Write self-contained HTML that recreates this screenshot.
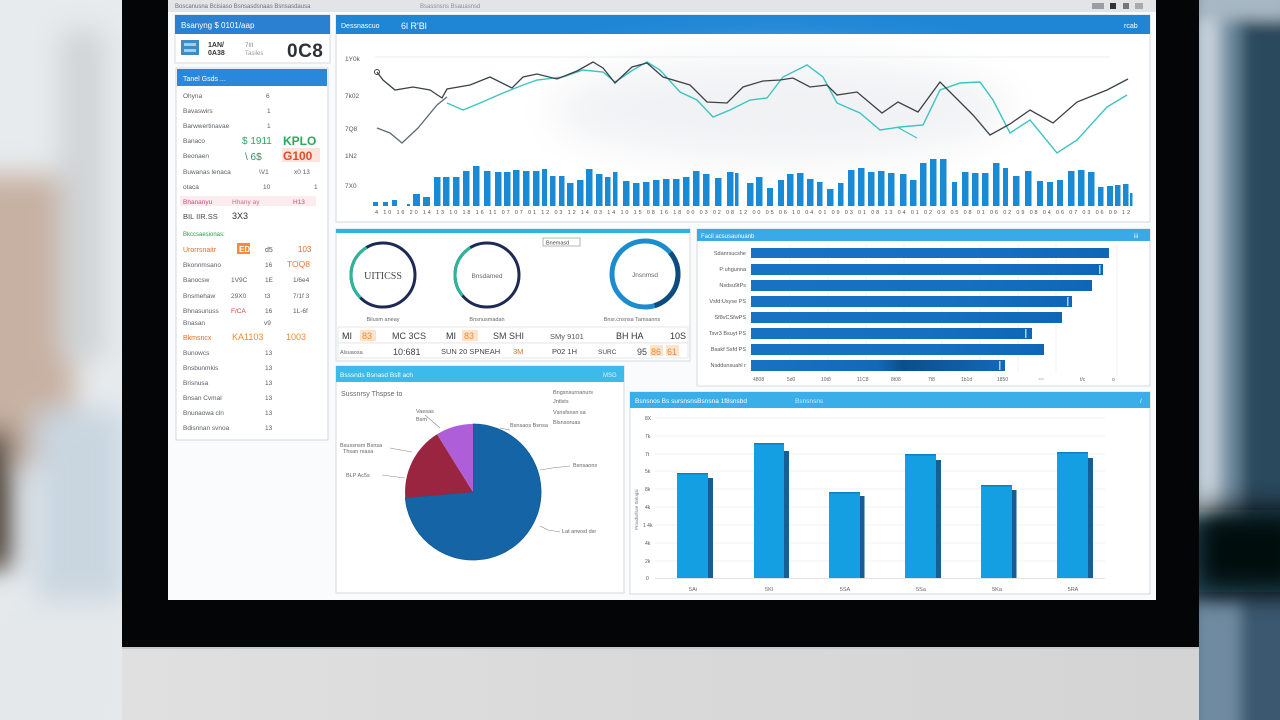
<!DOCTYPE html>
<html><head><meta charset="utf-8">
<style>
html,body{margin:0;padding:0;width:1280px;height:720px;overflow:hidden;background:#e6eaed;}
svg{display:block;font-family:"Liberation Sans",sans-serif;}
</style></head><body>
<svg width="1280" height="720" viewBox="0 0 1280 720" xmlns="http://www.w3.org/2000/svg">
<defs>
<filter id="b1" x="-80%" y="-80%" width="260%" height="260%"><feGaussianBlur stdDeviation="14"/></filter>
<filter id="b2" x="-80%" y="-80%" width="260%" height="260%"><feGaussianBlur stdDeviation="7"/></filter>
<filter id="b3" x="-50%" y="-50%" width="200%" height="200%"><feGaussianBlur stdDeviation="20"/></filter>
<linearGradient id="chin" x1="0" x2="1" y1="0" y2="0"><stop offset="0" stop-color="#e0e0e0"/><stop offset="0.5" stop-color="#d9d9d9"/><stop offset="1" stop-color="#d4d4d4"/></linearGradient>
<linearGradient id="hb" x1="0" x2="1"><stop offset="0" stop-color="#1872c4"/><stop offset="0.6" stop-color="#1670c2"/><stop offset="1" stop-color="#1066b6"/></linearGradient>
<linearGradient id="hb8" x1="0" x2="1"><stop offset="0" stop-color="#1872c4"/><stop offset="0.5" stop-color="#1468b8"/><stop offset="0.6" stop-color="#0c4e8c"/><stop offset="1" stop-color="#1468b8"/></linearGradient>
</defs>

<!-- LEFT BACKGROUND -->
<rect x="0" y="0" width="130" height="720" fill="#e7ebee"/>
<g filter="url(#b1)">
 <rect x="-30" y="175" width="105" height="290" fill="#c7b1a2"/>
 <rect x="-30" y="430" width="42" height="140" fill="#4a3c33"/>
 <rect x="35" y="410" width="90" height="220" fill="#c9d6e0"/>
 <rect x="60" y="30" width="45" height="330" fill="#d0d4d7"/>
 <rect x="-20" y="600" width="150" height="140" fill="#e4e8eb"/>
</g>

<!-- RIGHT BACKGROUND -->
<rect x="1190" y="0" width="90" height="720" fill="#2e4d63"/>
<g filter="url(#b2)">
 <rect x="1192" y="-20" width="28" height="540" fill="#c2cfd8"/>
 <rect x="1220" y="-20" width="20" height="540" fill="#6f8b9f"/>
 <rect x="1244" y="-20" width="60" height="760" fill="#2a485d"/>
 <rect x="1192" y="-30" width="100" height="50" fill="#a7b7c3"/>
 <rect x="1192" y="600" width="50" height="140" fill="#6f8ba1"/>
 <rect x="1240" y="600" width="60" height="140" fill="#3a5870"/>
</g>
<g filter="url(#b1)">
 <rect x="1195" y="510" width="110" height="82" fill="#05080b"/>
</g>

<!-- MONITOR -->
<rect x="122" y="0" width="1077" height="648" fill="#040506"/>
<rect x="122" y="647" width="1077" height="73" fill="url(#chin)"/>
<rect x="122" y="647" width="1077" height="2" fill="#c9c9c9"/>

<!-- SCREEN -->
<rect x="168" y="0" width="988" height="600" fill="#fafbfc"/>
<rect x="168" y="0" width="988" height="12" fill="#e2e4e6"/>
<g fill="#6a6e74" font-size="6">
 <text x="175" y="8">Boscanusna Bcisiaso Bsnsasdsnaas Bsnsasdausa</text>
 <text x="420" y="8" fill="#8a8e94">Bsassnsns Bsauasnsd</text>
</g>
<g fill="#555">
 <rect x="1092" y="3" width="12" height="6" fill="#9a9ea4"/>
 <rect x="1110" y="3" width="6" height="6" fill="#333"/>
 <rect x="1123" y="3" width="6" height="6" fill="#777"/>
 <rect x="1135" y="3" width="8" height="6" fill="#aaa"/>
</g>

<!-- LEFT PANEL 1 -->
<rect x="175" y="15" width="155" height="48" fill="#fff" stroke="#d6dadd"/>
<rect x="175" y="15" width="155" height="19" fill="#2b80d2"/>
<text x="181" y="28" font-size="8" fill="#fff">Bsanyng $ 0101/aap</text>
<rect x="181" y="40" width="18" height="15" fill="#3d8cc6"/>
<rect x="184" y="43" width="12" height="3" fill="#9fd0e8"/>
<rect x="184" y="49" width="12" height="3" fill="#9fd0e8"/>
<text x="208" y="47" font-size="7" fill="#333" font-weight="bold">1AN/</text>
<text x="208" y="55" font-size="7" fill="#333" font-weight="bold">0A38</text>
<text x="245" y="47" font-size="6" fill="#888">7III</text>
<text x="245" y="55" font-size="6" fill="#999">Tasiles</text>
<text x="287" y="57" font-size="19" fill="#2e3134" font-weight="bold" letter-spacing="0.5">0C8</text>

<!-- LEFT PANEL 2 -->
<rect x="176" y="68" width="152" height="372" fill="#fff" stroke="#d3d7da"/>
<rect x="177" y="69" width="150" height="17" fill="#2a88dc"/>
<text x="183" y="81" font-size="7" fill="#fff">Tanel Gsds  ...</text>
<g font-size="6.5" fill="#5a5e64">
 <text x="183" y="98">Ohyna</text><text x="266" y="98">6</text>
 <text x="183" y="113">Bavaswirs</text><text x="267" y="113">1</text>
 <text x="183" y="128">Barwwertinavae</text><text x="267" y="128">1</text>
 <text x="183" y="143">Banaco</text>
 <text x="183" y="158">Beonaen</text>
 <text x="183" y="174">Buwanas lenaca</text><text x="259" y="174">\V1</text><text x="294" y="174">x0 13</text>
 <text x="183" y="189">otaca</text><text x="263" y="189">10</text><text x="314" y="189">1</text>
 <text x="183" y="219" font-size="7.5" fill="#444">BIL IIR.SS</text>
 <text x="183" y="267">Bkonnmsano</text><text x="265" y="267">16</text>
 <text x="183" y="282">Banocsw</text><text x="231" y="282">1V9C</text><text x="265" y="282">1E</text><text x="293" y="282">1/6e4</text>
 <text x="183" y="298">Bnsmehaw</text><text x="231" y="298">29X0</text><text x="265" y="298">t3</text><text x="293" y="298">7/1f 3</text>
 <text x="183" y="313">Bhnasunuss</text><text x="265" y="313">16</text><text x="293" y="313">1L-6f</text>
 <text x="183" y="325">Bnasan</text><text x="264" y="325">v9</text>
 <text x="183" y="355">Bunowcs</text><text x="265" y="355">13</text>
 <text x="183" y="370">Bnsbunmkis</text><text x="265" y="370">13</text>
 <text x="183" y="385">Brisnusa</text><text x="265" y="385">13</text>
 <text x="183" y="400">Bnsan Cvmal</text><text x="265" y="400">13</text>
 <text x="183" y="415">Bnunaowa cln</text><text x="265" y="415">13</text>
 <text x="183" y="430">Bdisnnan svnoa</text><text x="265" y="430">13</text>
</g>
<text x="242" y="144" font-size="10" fill="#2aa860">$ 1911</text>
<text x="283" y="145" font-size="12" fill="#2aa860" font-weight="bold">KPLO</text>
<text x="245" y="160" font-size="10" fill="#3a8a60">\ 6$</text>
<rect x="282" y="148" width="38" height="14" fill="#fde4dc"/>
<text x="283" y="160" font-size="12" fill="#e04a2a" font-weight="bold">G100</text>
<rect x="180" y="196" width="136" height="10" fill="#fcebef"/>
<text x="183" y="204" font-size="6.5" fill="#c0507a">Bhananyu</text>
<text x="232" y="204" font-size="6.5" fill="#d07090">Hhany ay</text>
<text x="293" y="204" font-size="6.5" fill="#c0507a">H13</text>
<text x="232" y="219" font-size="9" fill="#333">3X3</text>
<text x="183" y="236" font-size="6" fill="#2a9a50">Bkccsaesionas:</text>
<text x="183" y="252" font-size="7" fill="#e07030">Urorrsnaitr</text>
<rect x="237" y="243" width="13" height="11" fill="#f58a3a"/>
<text x="239" y="252" font-size="8" fill="#fff" font-weight="bold">ED</text>
<text x="265" y="252" font-size="7" fill="#555">d5</text>
<text x="298" y="252" font-size="8" fill="#e07030">103</text>
<text x="287" y="267" font-size="8.5" fill="#e87a30">TOQ8</text>
<text x="231" y="313" font-size="6.5" fill="#d04040">F/CA</text>
<text x="183" y="340" font-size="7" fill="#e07030">Bkmsncx</text>
<text x="232" y="340" font-size="9" fill="#f08a30">KA1103</text>
<text x="286" y="340" font-size="9" fill="#f08a30">1003</text>

<!-- TOP CHART PANEL -->
<rect x="336" y="15" width="814" height="207" fill="#fff" stroke="#d5d9dc"/>
<rect x="336" y="15" width="814" height="19" fill="#1f86d6"/>
<text x="341" y="28" font-size="7" fill="#fff">Dessnascuo</text>
<text x="401" y="29" font-size="9" fill="#fff">6l R'Bl</text>
<text x="1124" y="28" font-size="7" fill="#fff">rcab</text>
<ellipse cx="780" cy="110" rx="230" ry="50" fill="#f1f2f4" filter="url(#b3)"/>
<line x1="375" y1="57" x2="1110" y2="57" stroke="#eceef0" stroke-width="1"/>
<g font-size="6.5" fill="#555">
 <text x="345" y="61">1Y0k</text>
 <text x="345" y="98">7k02</text>
 <text x="345" y="131">7Q8</text>
 <text x="345" y="158">1N2</text>
 <text x="345" y="188">7X0</text>
</g>
<path d="M377,128 L390,133 L402,143 L418,128 L437,105 L447,97" fill="none" stroke="#5e6a72" stroke-width="1.3"/>
<path d="M447,103 L463,110 L480,103 L503,93 L523,85 L537,80 L563,77 L583,70 L603,72 L615,82 L633,70 L647,62 L660,70 L680,92 L697,100 L713,117 L730,110 L750,100 L767,98 L783,77 L807,65 L823,77 L837,103 L860,113 L880,130 L900,127 L923,125 L940,90 L960,83 L980,82 L993,100 L1010,133 L1030,120 L1057,153 L1077,140 L1107,107 L1127,95" fill="none" stroke="#3cc4c0" stroke-width="1.4"/>
<path d="M897,127 L917,138" fill="none" stroke="#3cc4c0" stroke-width="1.2"/>
<path d="M377,72 L383,80 L395,90 L413,87 L430,90 L442,98 L447,89 L470,85 L490,77 L512,88 L523,77 L537,74 L557,79 L577,71 L593,62 L603,68 L615,83 L632,67 L647,63 L663,77 L690,85 L707,102 L727,103 L743,87 L763,81 L780,80 L793,78 L810,87 L827,85 L837,95 L857,92 L882,113 L898,102 L918,112 L940,82 L960,102 L973,115 L990,135 L1010,124 L1030,110 L1053,123 L1077,102 L1107,90 L1128,79" fill="none" stroke="#3c4248" stroke-width="1.3"/>
<circle cx="377" cy="72" r="2.5" fill="none" stroke="#3c4248"/>
<g fill="#1a8ad4">
 <rect x="373" y="202" width="5" height="4"/><rect x="383" y="202" width="5" height="4"/><rect x="392" y="200" width="5" height="6"/><rect x="407" y="204" width="3" height="2"/>
 <rect x="413" y="194" width="7" height="12"/><rect x="423" y="197" width="7" height="9"/>
 <rect x="434" y="177" width="6.5" height="29"/><rect x="443" y="177" width="6.5" height="29"/><rect x="453" y="177" width="6.5" height="29"/>
 <rect x="463" y="171" width="6.5" height="35"/><rect x="473" y="166" width="6.5" height="40"/><rect x="484" y="171" width="6.5" height="35"/>
 <rect x="495" y="172" width="6.5" height="34"/><rect x="504" y="172" width="6.5" height="34"/><rect x="513" y="170" width="6.5" height="36"/>
 <rect x="523" y="171" width="6.5" height="35"/><rect x="533" y="171" width="6.5" height="35"/><rect x="542" y="169" width="5" height="37"/>
 <rect x="550" y="176" width="5.5" height="30"/><rect x="559" y="176" width="5.5" height="30"/><rect x="567" y="183" width="6.5" height="23"/>
 <rect x="577" y="180" width="6.5" height="26"/><rect x="586" y="169" width="6.5" height="37"/><rect x="596" y="174" width="6.5" height="32"/>
 <rect x="605" y="177" width="5.5" height="29"/><rect x="613" y="172" width="4.5" height="34"/><rect x="623" y="181" width="6.5" height="25"/>
 <rect x="633" y="183" width="6.5" height="23"/><rect x="643" y="182" width="6.5" height="24"/><rect x="653" y="180" width="6.5" height="26"/>
 <rect x="663" y="179" width="6.5" height="27"/><rect x="673" y="179" width="6.5" height="27"/><rect x="683" y="177" width="6.5" height="29"/>
 <rect x="693" y="171" width="6.5" height="35"/><rect x="703" y="174" width="6.5" height="32"/><rect x="715" y="178" width="6.5" height="28"/>
 <rect x="727" y="172" width="6.5" height="34"/><rect x="735" y="173" width="3.5" height="33"/><rect x="747" y="183" width="6.5" height="23"/>
 <rect x="756" y="177" width="6.5" height="29"/><rect x="767" y="188" width="6" height="18"/><rect x="778" y="180" width="6" height="26"/>
 <rect x="787" y="174" width="6.5" height="32"/><rect x="797" y="173" width="6.5" height="33"/><rect x="807" y="179" width="6.5" height="27"/>
 <rect x="817" y="182" width="5.5" height="24"/><rect x="827" y="189" width="6.5" height="17"/><rect x="838" y="183" width="5.5" height="23"/>
 <rect x="848" y="170" width="6.5" height="36"/><rect x="858" y="168" width="6.5" height="38"/><rect x="868" y="172" width="6.5" height="34"/>
 <rect x="878" y="171" width="6.5" height="35"/><rect x="888" y="173" width="6.5" height="33"/><rect x="900" y="174" width="6.5" height="32"/>
 <rect x="910" y="180" width="6.5" height="26"/><rect x="920" y="163" width="6.5" height="43"/><rect x="930" y="159" width="6.5" height="47"/>
 <rect x="940" y="159" width="6.5" height="47"/><rect x="952" y="182" width="5" height="24"/><rect x="962" y="172" width="6.5" height="34"/>
 <rect x="972" y="173" width="6.5" height="33"/><rect x="982" y="173" width="6.5" height="33"/><rect x="993" y="163" width="6.5" height="43"/>
 <rect x="1003" y="168" width="5" height="38"/><rect x="1013" y="176" width="6.5" height="30"/><rect x="1025" y="171" width="6.5" height="35"/>
 <rect x="1037" y="181" width="6" height="25"/><rect x="1047" y="182" width="6" height="24"/><rect x="1057" y="180" width="6" height="26"/>
 <rect x="1068" y="171" width="6.5" height="35"/><rect x="1078" y="170" width="6.5" height="36"/><rect x="1088" y="172" width="6.5" height="34"/>
 <rect x="1098" y="187" width="5.5" height="19"/><rect x="1107" y="186" width="6" height="20"/><rect x="1115" y="185" width="5.5" height="21"/>
 <rect x="1123" y="184" width="5.5" height="22"/><rect x="1130" y="193" width="2.5" height="13"/>
</g>
<text x="375" y="214" font-size="5.5" fill="#555" textLength="755" lengthAdjust="spacing">4 10 16 20 14 13 10 18 16 11 07 07 01 12 03 12 14 03 14 10 15 08 16 18 00 03 02 08 12 00 05 06 10 04 01 09 03 01 08 13 04 01 02 09 05 08 01 06 02 09 08 04 06 07 03 06 09 12</text>

<!-- DONUT PANEL -->
<rect x="336" y="229" width="354" height="132" fill="#fff" stroke="#d5d9dc"/>
<rect x="336" y="229" width="354" height="4" fill="#2fb0e6"/>
<rect x="543" y="238" width="37" height="8" fill="#fff" stroke="#888" stroke-width="0.6"/>
<text x="546" y="244.5" font-size="5.5" fill="#444">Bnemasd</text>
<circle cx="383" cy="275" r="32" fill="none" stroke="#1c2a55" stroke-width="3"/>
<circle cx="383" cy="275" r="32" fill="none" stroke="#2bb59a" stroke-width="3" stroke-dasharray="58 200" transform="rotate(135 383 275)"/>
<text x="383" y="279" font-size="10" fill="#444" text-anchor="middle" font-family="Liberation Serif,serif">UITICSS</text>
<circle cx="487" cy="275" r="32" fill="none" stroke="#1c2a55" stroke-width="3"/>
<circle cx="487" cy="275" r="32" fill="none" stroke="#2bb59a" stroke-width="3" stroke-dasharray="55 200" transform="rotate(140 487 275)"/>
<text x="487" y="278" font-size="6.5" fill="#666" text-anchor="middle">Bnsdamed</text>
<circle cx="645" cy="274" r="33" fill="none" stroke="#1b8cce" stroke-width="5"/>
<circle cx="645" cy="274" r="33" fill="none" stroke="#0c4c80" stroke-width="5" stroke-dasharray="65 220" transform="rotate(-40 645 274)"/>
<text x="645" y="277" font-size="6.5" fill="#666" text-anchor="middle">Jnsnmsd</text>
<g font-size="5.5" fill="#666" text-anchor="middle">
 <text x="383" y="321">Bilusm aneay</text>
 <text x="487" y="321">Bnsnusmadan</text>
 <text x="632" y="321">Bnsr.cnsnsa Tamsanns</text>
</g>
<rect x="338" y="327" width="350" height="16" fill="#fff" stroke="#dcdfe2" stroke-width="0.7"/>
<rect x="338" y="343" width="350" height="15" fill="#fff" stroke="#dcdfe2" stroke-width="0.7"/>
<g font-size="9" fill="#333">
 <text x="342" y="339">MI</text>
 <rect x="360" y="330" width="16" height="11" fill="#fde2cc"/>
 <text x="362" y="339" fill="#f08a30">83</text>
 <text x="392" y="339" fill="#444">MC 3CS</text>
 <text x="446" y="339">MI</text>
 <rect x="462" y="330" width="16" height="11" fill="#fde2cc"/>
 <text x="464" y="339" fill="#f08a30">83</text>
 <text x="493" y="339" fill="#444">SM  SHI</text>
 <text x="550" y="339" font-size="7.5" fill="#555">SMy 9101</text>
 <text x="616" y="339">BH  HA</text>
 <text x="670" y="339">10S</text>
</g>
<g font-size="7.5" fill="#444">
 <text x="340" y="354" font-size="5.5" fill="#666">Alsuaosa</text>
 <text x="393" y="355" font-size="9">10:681</text>
 <text x="441" y="354">SUN 20 SPNEAH</text>
 <text x="513" y="354" fill="#e07030">3M</text>
 <text x="552" y="354">P02 1H</text>
 <text x="598" y="354" font-size="6.5">SURC</text>
 <text x="637" y="355" font-size="9">95</text>
 <rect x="650" y="345" width="13" height="11" fill="#fde2cc"/>
 <text x="651" y="355" font-size="9" fill="#f08a30">86</text>
 <rect x="666" y="345" width="13" height="11" fill="#fde2cc"/>
 <text x="667" y="355" font-size="9" fill="#f08a30">61</text>
</g>

<!-- HORIZONTAL BAR PANEL -->
<rect x="697" y="229" width="453" height="157" fill="#fff" stroke="#d5d9dc"/>
<rect x="697" y="229" width="453" height="12" fill="#3aa9ea"/>
<text x="701" y="238" font-size="6" fill="#fff">Facil acsusaunuanb</text>
<text x="1134" y="238" font-size="6" fill="#fff">iii</text>
<g stroke="#eef0f2" stroke-width="0.8">
 <line x1="790" y1="244" x2="790" y2="373"/><line x1="828" y1="244" x2="828" y2="373"/><line x1="866" y1="244" x2="866" y2="373"/>
 <line x1="904" y1="244" x2="904" y2="373"/><line x1="942" y1="244" x2="942" y2="373"/><line x1="980" y1="244" x2="980" y2="373"/>
 <line x1="1018" y1="244" x2="1018" y2="373"/><line x1="1056" y1="244" x2="1056" y2="373"/><line x1="1117" y1="244" x2="1117" y2="380"/>
</g>
<rect x="751" y="248" width="358" height="10" fill="url(#hb)"/>
<rect x="751" y="264" width="352" height="11" fill="url(#hb)"/>
<rect x="751" y="280" width="341" height="11" fill="url(#hb)"/>
<rect x="751" y="296" width="321" height="11" fill="url(#hb)"/>
<rect x="751" y="312" width="311" height="11" fill="url(#hb)"/>
<rect x="751" y="328" width="281" height="11" fill="url(#hb)"/>
<rect x="751" y="344" width="293" height="11" fill="url(#hb)"/>
<rect x="751" y="360" width="254" height="11" fill="url(#hb8)"/>
<g fill="#9fd4f4"><rect x="1099" y="265" width="1.5" height="9"/><rect x="1067" y="297" width="1.5" height="9"/><rect x="1025" y="329" width="1.5" height="9"/><rect x="999" y="361" width="1.5" height="9"/></g>
<g font-size="5.5" fill="#555" text-anchor="end">
 <text x="746" y="255">Sdanrsucshe</text>
 <text x="746" y="271">P:uhgunna</text>
 <text x="746" y="287">Nsdsu9tPs</text>
 <text x="746" y="303">Vsfd:Usyse PS</text>
 <text x="746" y="319">Sf8vCSfwPS</text>
 <text x="746" y="335">Tsvr3 Bsuyt PS</text>
 <text x="746" y="351">Bsakf Ssfd PS</text>
 <text x="746" y="367">Nsddunsuahl r</text>
</g>
<g font-size="5" fill="#666">
 <text x="753" y="381">4808</text><text x="787" y="381">5d0</text><text x="821" y="381">10t8</text><text x="857" y="381">11C8</text>
 <text x="891" y="381">8t08</text><text x="928" y="381">7t8</text><text x="961" y="381">1b1d</text><text x="997" y="381">1850</text>
 <text x="1038" y="381">~~</text><text x="1080" y="381">t/c</text><text x="1112" y="381">o</text>
</g>

<!-- PIE PANEL -->
<rect x="336" y="366" width="288" height="227" fill="#fff" stroke="#d5d9dc"/>
<rect x="336" y="366" width="288" height="16" fill="#3cbaea"/>
<text x="340" y="377" font-size="6.5" fill="#fff">Bsssnds Bsnasd Bsfl ach</text>
<text x="603" y="377" font-size="6" fill="#e6f6ff">MSG</text>
<text x="341" y="396" font-size="7" fill="#666">Sussnrsy  Thspse to</text>
<g font-size="5.5" fill="#666">
 <text x="553" y="394">Bngsnsurnanurs</text>
 <text x="553" y="403">Jntlsts</text>
 <text x="553" y="414">Vsnsfsnsn  sa</text>
 <text x="553" y="424">Blsnsoruas</text>
</g>
<path d="M473,492 L473,424 A68,68 0 1,1 405.3,497.9 Z" fill="#1565a6" stroke="#0f5a95" stroke-width="0.8"/>
<path d="M473,492 L405.3,497.9 A68,68 0 0,1 437,434.3 Z" fill="#9a2540"/>
<path d="M473,492 L437,434.3 A68,68 0 0,1 473,424 Z" fill="#ad5ed8"/>
<g stroke="#888" stroke-width="0.6" fill="none">
 <path d="M425,415 L440,428"/><path d="M390,448 L412,452"/><path d="M382,475 L405,478"/>
 <path d="M510,430 L500,428"/><path d="M570,466 L552,468 L540,470"/><path d="M560,532 L548,530 L540,526"/>
</g>
<g font-size="5.5" fill="#666">
 <text x="416" y="413">Vaesas</text><text x="416" y="421">Bsm</text>
 <text x="340" y="447">Bsussnsm Bsnsa</text><text x="343" y="453">Thsan rsasa</text>
 <text x="346" y="477">BLP Ac5s</text>
 <text x="510" y="427">Bsnsaos Bsnsa</text>
 <text x="573" y="467">Bsnsaons</text>
 <text x="562" y="533">Lat anwsd dsr</text>
</g>

<!-- BOTTOM BAR PANEL -->
<rect x="630" y="392" width="520" height="202" fill="#fff" stroke="#d5d9dc"/>
<rect x="630" y="392" width="520" height="16" fill="#3aaee8"/>
<text x="635" y="403" font-size="6.5" fill="#fff">Bsnsnos Bs sursnsnsBsnsna 1f8snsbd </text>
<text x="795" y="403" font-size="6.5" fill="#cdeefc">Bsnsnsns</text>
<text x="1140" y="403" font-size="6" fill="#fff">/</text>
<g stroke="#eceef0" stroke-width="0.8">
 <line x1="655" y1="418" x2="1105" y2="418"/><line x1="655" y1="436" x2="1105" y2="436"/><line x1="655" y1="454" x2="1105" y2="454"/>
 <line x1="655" y1="471" x2="1105" y2="471"/><line x1="655" y1="489" x2="1105" y2="489"/><line x1="655" y1="507" x2="1105" y2="507"/>
 <line x1="655" y1="525" x2="1105" y2="525"/><line x1="655" y1="543" x2="1105" y2="543"/><line x1="655" y1="561" x2="1105" y2="561"/>
</g>
<line x1="655" y1="578.5" x2="1105" y2="578.5" stroke="#d8dadc" stroke-width="0.8"/>
<g font-size="5" fill="#555">
 <text x="645" y="420">8X</text><text x="645" y="438">7k</text><text x="645" y="456">7t</text><text x="645" y="473">5k</text>
 <text x="645" y="491">8k</text><text x="645" y="509">4k</text><text x="643" y="527">1 4k</text><text x="645" y="545">4k</text>
 <text x="645" y="563">2k</text><text x="646" y="580">0</text>
</g>
<text x="0" y="0" font-size="4.5" fill="#777" transform="translate(638,530) rotate(-90)">Proudurfsse Sntugsi</text>
<g fill="#155f95">
 <rect x="708" y="478" width="5" height="100"/><rect x="784" y="451" width="5" height="127"/><rect x="860" y="496" width="4.5" height="82"/>
 <rect x="936" y="460" width="5" height="118"/><rect x="1012" y="490" width="4.5" height="88"/><rect x="1088" y="458" width="5" height="120"/>
</g>
<g fill="#149fe2">
 <rect x="677" y="473" width="31" height="105"/><rect x="754" y="443" width="30" height="135"/><rect x="829" y="492" width="31" height="86"/>
 <rect x="905" y="454" width="31" height="124"/><rect x="981" y="485" width="31" height="93"/><rect x="1057" y="452" width="31" height="126"/>
</g>
<g fill="#0f7fc0">
 <rect x="677" y="473" width="31" height="1.5"/><rect x="754" y="443" width="30" height="1.5"/><rect x="829" y="492" width="31" height="1.5"/>
 <rect x="905" y="454" width="31" height="1.5"/><rect x="981" y="485" width="31" height="1.5"/><rect x="1057" y="452" width="31" height="1.5"/>
</g>
<g font-size="5.5" fill="#666" text-anchor="middle">
 <text x="693" y="591">5Ai</text><text x="769" y="591">5Kl</text><text x="845" y="591">5SA</text>
 <text x="921" y="591">5Sa</text><text x="997" y="591">5Ka</text><text x="1073" y="591">5RA</text>
</g>
</svg>
</body></html>
